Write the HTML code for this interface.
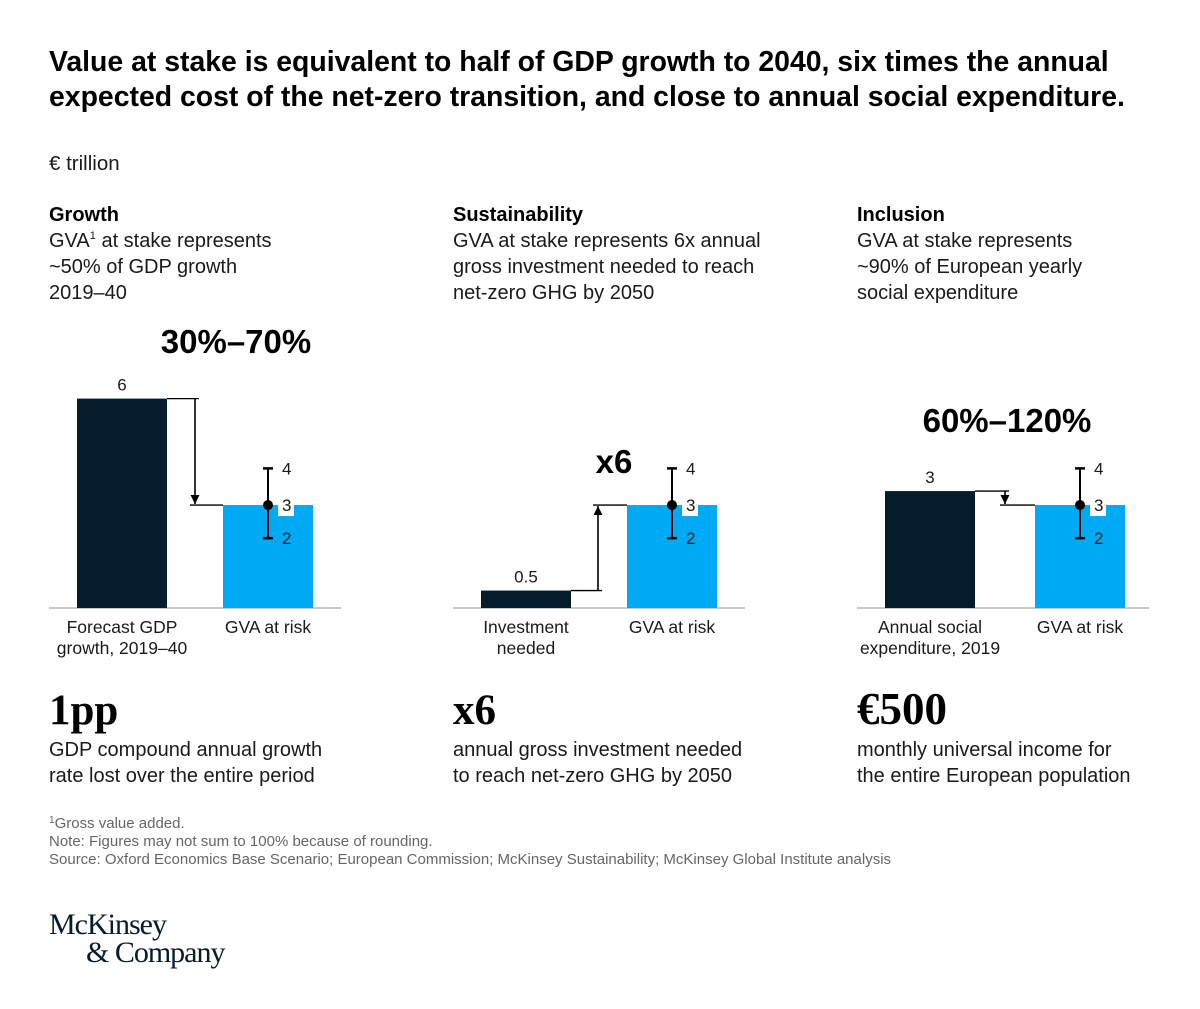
<!DOCTYPE html>
<html><head><meta charset="utf-8"><style>
html,body{margin:0;padding:0;background:#fff;}
svg{display:block;font-family:"Liberation Sans",Arial,sans-serif;}
.t{font-size:20px;fill:#1a1a1a;}
.h{font-size:20px;font-weight:bold;fill:#000;}
.c{font-size:17.5px;fill:#1a1a1a;text-anchor:middle;}
.f{font-size:15px;fill:#666;}
.big{font-family:"Liberation Serif",serif;font-weight:bold;font-size:43px;fill:#000;}
.pct{font-size:33px;font-weight:bold;fill:#000;text-anchor:middle;}
.v{font-size:17px;fill:#1a1a1a;}
</style></head><body>
<svg id="chart" width="1200" height="1009" viewBox="0 0 1200 1009">
<defs><marker id="ah" viewBox="0 0 10 10" refX="5" refY="10" markerWidth="9" markerHeight="9" markerUnits="userSpaceOnUse"><path d="M0,0 L10,0 L5,10 z" fill="#000"/></marker>
<marker id="au" viewBox="0 0 10 10" refX="5" refY="0" markerWidth="9" markerHeight="9" markerUnits="userSpaceOnUse"><path d="M0,10 L10,10 L5,0 z" fill="#000"/></marker></defs>
<text x="49" y="71" style="font-size:28.4px;font-weight:bold">Value at stake is equivalent to half of GDP growth to 2040, six times the annual</text>
<text x="49" y="106" style="font-size:28.4px;font-weight:bold">expected cost of the net-zero transition, and close to annual social expenditure.</text>
<text x="49" y="170" class="t" style="font-size:20.5px">€ trillion</text>

<g>
<text x="49" y="221" class="h">Growth</text>
<text x="49" y="247" class="t">GVA<tspan dy="-8" style="font-size:11px">1</tspan><tspan dy="8"> at stake represents</tspan></text>
<text x="49" y="273" class="t">~50% of GDP growth</text>
<text x="49" y="299" class="t">2019–40</text></g>
<g>
<text x="453" y="221" class="h">Sustainability</text>
<text x="453" y="247" class="t">GVA at stake represents 6x annual</text>
<text x="453" y="273" class="t">gross investment needed to reach</text>
<text x="453" y="299" class="t">net-zero GHG by 2050</text></g>
<g>
<text x="857" y="221" class="h">Inclusion</text>
<text x="857" y="247" class="t">GVA at stake represents</text>
<text x="857" y="273" class="t">~90% of European yearly</text>
<text x="857" y="299" class="t">social expenditure</text></g>

<g id="charts"></g>

<g>
<text x="49" y="724" class="big">1pp</text>
<text x="49" y="756" class="t">GDP compound annual growth</text>
<text x="49" y="782" class="t">rate lost over the entire period</text></g>
<g>
<text x="453" y="724" class="big">x6</text>
<text x="453" y="756" class="t">annual gross investment needed</text>
<text x="453" y="782" class="t">to reach net-zero GHG by 2050</text></g>
<g>
<text x="857" y="724" class="big" style="font-size:45px">€500</text>
<text x="857" y="756" class="t">monthly universal income for</text>
<text x="857" y="782" class="t">the entire European population</text></g>

<g>
<text x="49" y="828" class="f"><tspan style="font-size:10px" dy="-5">1</tspan><tspan dy="5">Gross value added.</tspan></text>
<text x="49" y="846" class="f">Note: Figures may not sum to 100% because of rounding.</text>
<text x="49" y="864" class="f">Source: Oxford Economics Base Scenario; European Commission; McKinsey Sustainability; McKinsey Global Institute analysis</text></g>
<g style="font-family:'Liberation Serif',serif;font-size:30px;fill:#051c2c">
<text x="49" y="934" style="letter-spacing:-1px">McKinsey</text>
<text x="86" y="962" style="letter-spacing:-1px">&amp; Company</text></g>
</svg>
<script>
const panels = ["growth","sustainability","inclusion"];
const baseValues = [6, 0.5, 3.35];
const baseLabels = ["6","0.5","3"];
const baseCats = [["Forecast GDP","growth, 2019–40"],["Investment","needed"],["Annual social","expenditure, 2019"]];
const gvaValues = [2.95, 2.95, 2.95];
const gvaLow = [2, 2, 2];
const gvaHigh = [4, 4, 4];
const gvaLabels = [["4","3","2"],["4","3","2"],["4","3","2"]];
const headlines = ["30%–70%","x6","60%–120%"];

const NS="http://www.w3.org/2000/svg";
const g=document.getElementById('charts');
const baseY=608, pxPerUnit=34.9;
const y=v=>baseY-v*pxPerUnit;
function el(tag,attrs,parent){const e=document.createElementNS(NS,tag);for(const k in attrs)e.setAttribute(k,attrs[k]);(parent||g).appendChild(e);return e;}
panels.forEach((p,i)=>{
  const ox=49+i*404;
  const grp=el('g',{});
  
  
  const ax=el('line',{x1:ox,x2:ox+292,y1:baseY,y2:baseY,stroke:'#aaa','stroke-width':1.2},grp);
  
  
  const bx=ox+28, gx=ox+174+(i==2?4:0), w=90;
  const b=el('rect',{x:bx,y:y(baseValues[i]),width:w,height:baseValues[i]*pxPerUnit,fill:'#051c2c'},grp);
  
  
  const bl=el('text',{x:bx+w/2,y:y(baseValues[i])-8,class:'v','text-anchor':'middle'},grp);bl.textContent=baseLabels[i];
  
  
  const gb=el('rect',{x:gx,y:y(gvaValues[i]),width:w,height:gvaValues[i]*pxPerUnit,fill:'#00a9f4'},grp);
  
  
  const topB=y(baseValues[i]), topG=y(gvaValues[i]), axx=(bx+w+gx)/2+(i==1?-1:0);
  el('line',{x1:bx+w,x2:axx+4,y1:topB,y2:topB,stroke:'#000','stroke-width':1.3},grp);
  el('line',{x1:axx-5,x2:gx,y1:topG,y2:topG,stroke:'#000','stroke-width':1.3},grp);
  const down=topG>topB;
  const arr=el('line',{x1:axx,x2:axx,y1:topB,y2:down?topG-1:topG+1,stroke:'#000','stroke-width':1.6,'marker-end':down?'url(#ah)':'url(#au)'},grp);
  
  
  const ex=gx+45;
  const eb=el('g',{},grp);
  
  
  el('line',{x1:ex,x2:ex,y1:y(gvaHigh[i]),y2:y(gvaLow[i]),stroke:'#000','stroke-width':2},eb);
  el('line',{x1:ex-5,x2:ex+5,y1:y(gvaHigh[i]),y2:y(gvaHigh[i]),stroke:'#000','stroke-width':2.5},eb);
  el('line',{x1:ex-5,x2:ex+5,y1:y(gvaLow[i]),y2:y(gvaLow[i]),stroke:'#000','stroke-width':2.5},eb);
  el('circle',{cx:ex,cy:y(gvaValues[i]),r:5,fill:'#000'},eb);
  const vals=[gvaHigh[i],gvaValues[i],gvaLow[i]];
  vals.forEach((v,k)=>{
    if(k==1) el('rect',{x:ex+10,y:y(v),width:16,height:11,fill:'#fff'},eb);
    const t=el('text',{x:ex+14,y:y(v)+6,class:'v'},eb);t.textContent=gvaLabels[i][k];
  });
  baseCats[i].forEach((s,k)=>{const t=el('text',{x:bx+w/2,y:633+k*21,class:'c'},grp);t.textContent=s;});
  const gl=el('text',{x:gx+w/2,y:633,class:'c'},grp);gl.textContent='GVA at risk';
  
  
  const hy=[353,473,432][i], hx=[236,614,1007][i];
  const h=el('text',{x:hx,y:hy,class:'pct'},grp);h.textContent=headlines[i];
  
  
});
</script>
</body></html>
